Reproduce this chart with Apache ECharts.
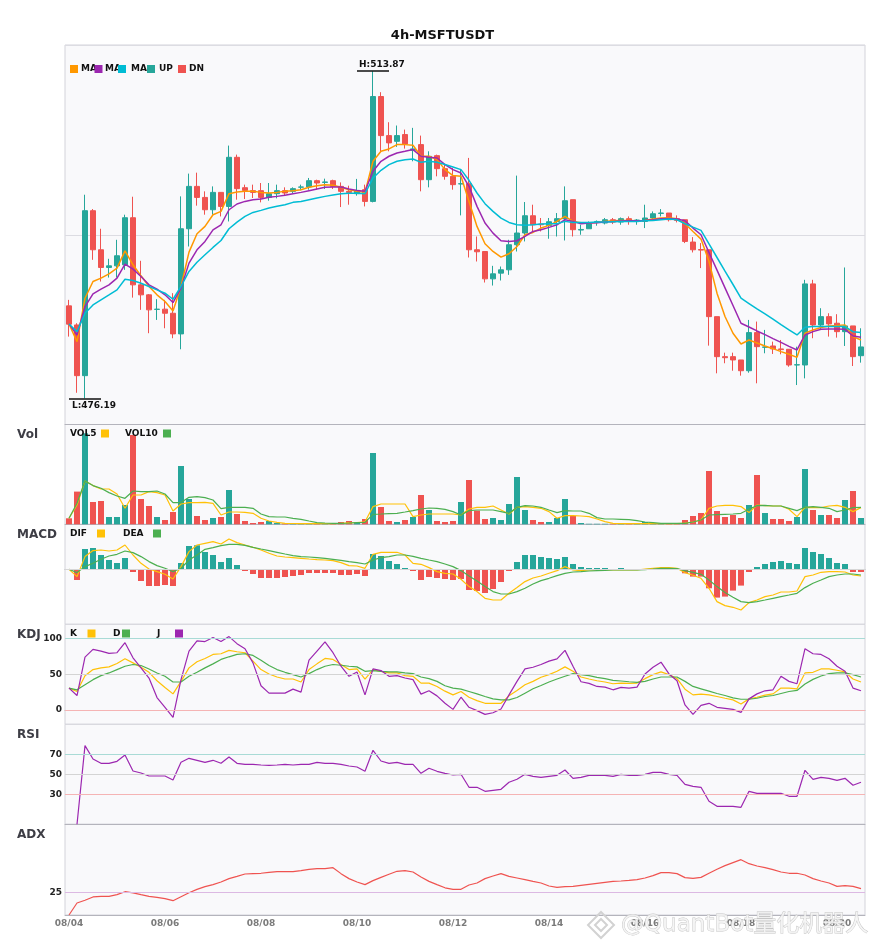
<!DOCTYPE html>
<html><head><meta charset="utf-8">
<script src="https://cdn.jsdelivr.net/npm/echarts@6.0.0/dist/echarts.min.js"></script>
<style>html,body{margin:0;padding:0;background:#fff}#c{width:885px;height:950px}</style>
</head><body><div id="c"></div>
<script>
const days = ['08/04','08/05','08/06','08/07','08/08','08/09','08/10','08/11','08/12','08/13','08/14','08/15','08/16','08/17','08/18','08/19','08/20'];
const hours = ['00:00','04:00','08:00','12:00','16:00','20:00'];

const openP = [486.84,484.64,478.80,497.80,493.30,491.26,491.45,491.57,496.99,489.26,
 488.11,486.43,486.46,485.99,483.61,495.72,500.60,499.33,497.91,499.91,
 498.29,503.95,500.45,500.11,500.11,499.33,499.76,500.11,500.03,500.51,
 500.53,501.26,501.06,501.26,500.60,500.03,499.76,500.22,498.87,510.95,
 506.45,505.79,506.57,504.76,505.41,501.37,504.14,502.64,501.76,500.88,
 500.91,493.30,493.10,489.95,490.61,490.99,493.88,495.23,497.22,496.26,
 496.10,496.56,496.88,499.07,495.57,495.72,496.53,496.38,496.76,496.49,
 496.88,496.68,496.56,496.96,497.49,497.53,496.88,496.76,494.19,493.33,
 493.30,485.60,480.99,480.99,480.61,479.37,483.76,482.07,482.22,481.88,
 481.84,480.03,480.03,489.37,484.64,485.60,484.84,483.87,484.53,481.10];
const closeP = [484.73,478.80,497.80,493.30,491.26,491.45,492.61,496.99,489.26,488.11,
 486.38,486.46,485.99,483.61,495.72,500.60,499.33,497.91,499.91,498.29,
 503.95,500.34,500.14,499.91,499.33,499.76,500.11,499.84,500.34,500.53,
 501.26,500.99,501.11,500.60,500.03,499.91,500.14,498.87,510.95,506.45,
 505.61,506.45,505.49,504.92,501.37,504.06,502.64,501.76,500.80,500.91,
 493.30,493.07,489.95,490.53,490.99,493.88,495.23,497.22,496.18,496.18,
 496.53,496.88,498.95,495.61,495.64,496.30,496.56,496.76,496.49,496.88,
 496.56,496.72,496.96,497.45,497.53,496.76,496.68,494.26,493.30,493.26,
 485.60,480.99,480.87,480.61,479.37,483.76,482.14,482.11,481.88,481.80,
 480.03,480.06,489.37,484.64,485.60,484.76,483.87,484.53,480.99,482.11];
const lowP = [483.30,476.83,476.19,492.14,489.64,490.10,490.10,490.99,487.79,486.38,
 483.69,485.22,484.26,483.11,481.84,493.68,498.38,497.34,497.34,497.14,
 496.56,499.07,499.15,499.26,498.76,498.95,499.22,499.53,499.84,500.14,
 500.22,500.22,500.30,500.30,498.22,498.49,499.53,498.29,498.76,504.52,
 504.64,505.15,504.95,503.49,500.03,500.49,501.76,501.37,500.22,497.26,
 492.41,491.95,489.53,489.18,489.76,490.41,493.10,494.26,495.41,495.41,
 494.57,494.83,494.37,494.83,495.03,495.70,496.07,496.22,496.26,496.18,
 496.18,496.18,495.80,496.68,497.14,496.56,496.45,494.07,492.99,491.19,
 482.26,479.07,480.23,479.37,478.80,479.14,477.92,481.38,481.30,481.26,
 479.83,477.72,478.49,483.11,484.07,483.30,483.18,482.22,479.91,480.30];
const highP = [487.53,484.84,499.64,497.99,495.72,492.26,494.45,497.34,499.41,492.03,
 488.20,487.61,487.53,488.30,499.45,502.07,502.18,500.03,500.60,499.95,
 505.30,504.26,500.80,500.80,500.99,500.99,500.80,500.49,500.49,500.80,
 501.57,501.37,501.49,501.37,501.06,500.68,501.46,500.80,513.87,511.45,
 507.99,507.61,507.14,507.34,506.45,504.64,504.26,503.11,502.72,502.61,
 503.88,494.83,493.10,491.45,491.37,494.45,501.84,498.80,498.49,496.96,
 496.96,497.53,500.60,499.07,496.18,496.56,496.68,496.96,496.96,497.02,
 497.14,496.84,498.49,497.72,497.99,497.53,497.26,496.76,494.76,494.07,
 493.30,485.60,481.45,481.45,480.61,485.22,485.03,484.07,482.72,482.91,
 481.84,482.14,489.84,489.84,486.57,485.99,485.88,491.26,484.53,484.26];

const ma5 = [484.76,482.72,487.72,489.64,490.03,490.53,491.18,493.18,491.57,490.30,
 489.07,488.11,487.34,486.26,489.07,493.03,495.14,495.99,497.33,497.72,
 499.76,499.95,500.03,500.03,499.91,499.84,499.91,500.03,500.10,500.22,
 500.49,500.68,500.80,500.72,500.49,500.22,500.03,499.91,503.49,504.64,
 504.91,505.41,505.41,505.34,504.07,504.07,503.68,502.53,501.84,501.76,
 498.87,495.99,493.99,493.11,492.45,492.84,493.68,495.03,495.30,495.80,
 496.11,496.57,497.14,496.57,496.40,496.37,496.45,496.57,496.64,496.68,
 496.68,496.64,496.68,496.84,496.95,496.99,496.87,496.30,495.41,494.53,
 491.95,488.30,485.61,483.68,482.45,482.91,482.57,482.22,481.91,481.57,
 481.26,480.91,483.68,484.07,484.34,484.53,484.57,484.65,483.30,482.91];
const ma10 = [484.76,483.49,486.76,488.22,488.76,489.26,490.03,491.64,491.07,490.22,
 489.26,488.76,488.11,487.22,488.88,491.76,493.30,494.26,495.60,496.18,
 497.91,498.57,498.87,499.07,499.14,499.34,499.45,499.57,499.76,499.91,
 500.11,500.30,500.49,500.53,500.53,500.30,500.14,500.03,502.34,503.49,
 504.07,504.45,504.64,504.84,504.07,503.95,503.87,503.11,502.53,502.14,
 500.61,498.30,496.38,495.22,494.34,494.26,494.34,494.84,495.41,495.61,
 495.88,496.18,496.76,496.57,496.30,496.37,496.41,496.49,496.57,496.61,
 496.64,496.64,496.68,496.76,496.87,496.91,496.84,496.64,495.80,495.03,
 492.99,490.95,488.91,486.88,484.84,484.41,483.95,483.53,483.07,482.64,
 482.18,481.76,483.49,483.87,484.14,484.18,484.18,484.14,483.38,483.22];
const ma20 = [484.76,483.87,485.99,486.95,487.53,488.10,488.68,489.91,489.76,489.45,
 489.07,488.68,488.30,487.60,489.07,490.80,491.87,492.72,493.57,494.37,
 495.72,496.49,497.14,497.60,497.84,498.10,498.30,498.49,498.76,498.87,
 499.07,499.26,499.45,499.61,499.76,499.80,499.80,499.76,501.57,502.45,
 503.11,503.49,503.68,503.76,503.37,503.49,503.37,503.11,502.84,502.53,
 501.30,499.84,498.61,497.72,496.95,496.45,496.18,496.11,496.18,496.26,
 496.30,496.30,496.57,496.45,496.45,496.45,496.49,496.49,496.53,496.57,
 496.57,496.57,496.64,496.68,496.76,496.84,496.76,496.30,495.91,495.53,
 493.99,492.41,490.84,489.30,487.72,487.11,486.49,485.91,485.30,484.68,
 484.07,483.49,484.38,484.45,484.45,484.45,484.45,484.45,483.87,483.76];

const volume = [6.0,32.7,91.0,22.3,23.3,7.3,7.3,19.3,89.3,25.3,
 18.3,7.3,4.3,12.3,58.3,25.3,8.3,4.3,6.3,7.3,
 34.3,10.3,3.3,1.3,2.3,3.3,1.3,0.7,0.7,0.7,
 0.7,0.7,0.7,0.7,2.3,3.3,2.3,5.3,71.3,17.3,
 3.3,2.3,4.3,7.3,29.3,14.3,3.3,2.3,3.3,22.3,
 44.3,13.7,5.3,6.3,4.3,20.3,47.3,14.3,4.3,2.3,
 2.3,6.3,25.3,8.3,1.3,0.5,0.5,0.5,0.5,0.5,
 0.5,0.5,2.3,0.7,0.7,0.7,0.7,4.3,8.3,11.3,
 53.3,13.3,7.3,9.3,6.3,19.3,49.3,11.3,5.3,5.3,
 3.3,7.3,55.3,14.3,9.3,9.3,6.3,24.3,33.3,6.3];
const vol5 = [6.0,19.3,43.3,38.7,35.3,35.3,30.3,16.0,29.3,29.3,
 32.7,31.7,29.3,13.3,20.3,21.7,21.7,22.0,21.0,9.3,
 12.3,12.3,12.0,11.0,6.0,3.3,2.0,1.0,0.8,0.7,
 0.7,0.7,0.7,0.7,1.0,1.5,1.8,2.5,17.7,20.3,
 20.3,20.3,20.3,7.7,9.3,10.3,10.3,10.3,10.3,9.3,
 15.3,17.0,17.0,18.3,14.3,10.3,17.0,17.7,17.0,16.0,
 12.7,6.0,8.7,8.7,8.3,7.7,5.3,2.7,1.0,0.6,
 0.6,0.6,0.6,0.6,0.6,0.6,0.6,1.3,2.3,4.3,
 16.0,18.3,19.0,19.0,17.7,11.7,19.3,18.7,18.3,18.3,
 15.0,7.7,17.0,16.7,16.7,18.3,19.0,17.0,12.7,16.7];
const vol10 = [6.0,21.0,43.3,38.7,36.0,31.7,28.3,26.0,33.3,32.7,
 32.7,33.3,30.3,21.7,21.7,27.0,27.7,26.7,24.3,15.7,
 17.0,17.0,17.0,16.0,10.3,7.7,7.3,7.3,6.0,5.0,
 3.3,1.7,1.3,1.0,1.0,1.3,1.7,2.0,10.0,10.3,
 10.7,11.0,12.3,13.7,15.3,16.3,16.0,15.0,12.7,9.3,
 13.7,14.3,14.3,14.3,12.7,11.0,17.0,18.7,18.3,17.0,
 14.3,11.7,13.7,13.3,13.3,11.0,6.7,5.3,5.3,5.0,
 4.7,3.7,2.3,1.7,1.0,1.0,1.0,1.0,2.3,4.3,
 9.3,9.7,10.0,10.3,11.0,15.0,18.7,19.0,18.3,18.3,
 16.0,13.7,17.0,17.7,17.0,16.0,12.7,14.3,16.7,17.0];

const macdHist = [0,-1.07,2.03,2.13,1.43,0.93,0.63,1.13,-0.27,-1.17,
 -1.67,-1.67,-1.57,-1.67,0.63,2.33,2.40,1.73,1.43,0.73,
 1.13,0.43,-0.17,-0.47,-0.87,-0.87,-0.87,-0.77,-0.67,-0.57,
 -0.37,-0.37,-0.37,-0.37,-0.57,-0.57,-0.47,-0.67,1.53,1.33,
 0.83,0.53,0.13,-0.17,-1.07,-0.77,-0.87,-0.97,-1.07,-0.97,
 -2.07,-2.17,-2.37,-1.97,-1.27,-0.17,0.73,1.43,1.43,1.23,
 1.13,1.03,1.23,0.53,0.23,0.13,0.13,0.13,0.03,0.13,
 0.02,0.02,0.02,0.02,0.02,0.02,0.01,-0.40,-0.73,-0.73,
 -1.90,-2.83,-2.73,-2.13,-1.63,-0.27,0.23,0.53,0.73,0.83,
 0.63,0.53,2.13,1.73,1.53,1.13,0.63,0.53,-0.27,-0.27];
const dif = [0,-0.73,1.27,1.87,1.93,1.83,1.93,2.43,1.43,0.60,
 0.03,-0.23,-0.50,-0.97,0.27,1.77,2.43,2.60,2.77,2.53,
 3.03,2.67,2.43,2.20,1.93,1.60,1.33,1.23,1.17,1.10,
 1.03,0.97,0.93,0.87,0.67,0.37,0.33,0.10,1.50,1.70,
 1.70,1.70,1.43,0.60,0.50,0.17,-0.23,-0.40,-0.47,-1.00,
 -1.73,-2.23,-2.90,-3.07,-3.07,-2.40,-1.83,-1.23,-0.87,-0.67,
 -0.40,-0.13,0.27,-0.07,-0.13,-0.07,-0.07,-0.07,-0.07,-0.07,
 -0.07,-0.07,0.03,0.10,0.17,0.17,0.10,-0.33,-0.60,-0.90,
 -1.90,-3.23,-3.63,-3.80,-4.07,-3.33,-3.07,-2.73,-2.57,-2.27,
 -2.27,-2.17,-0.73,-0.57,-0.30,-0.23,-0.23,-0.27,-0.57,-0.67];
const dea = [0,-0.33,0.27,0.60,1.00,1.33,1.50,1.83,1.67,1.27,
 0.77,0.37,0.10,-0.23,0.10,0.93,1.43,2.00,2.17,2.37,
 2.50,2.50,2.40,2.20,2.03,1.87,1.70,1.53,1.37,1.27,
 1.23,1.17,1.10,1.00,0.90,0.77,0.67,0.53,0.93,1.17,
 1.27,1.43,1.43,1.30,1.10,0.93,0.77,0.53,0.27,-0.13,
 -0.67,-1.17,-1.73,-2.23,-2.47,-2.47,-2.23,-1.90,-1.47,-1.13,
 -0.90,-0.63,-0.40,-0.27,-0.23,-0.17,-0.13,-0.10,-0.07,-0.07,
 -0.07,-0.07,-0.03,0.03,0.10,0.10,0.07,-0.13,-0.30,-0.50,
 -1.07,-1.73,-2.33,-2.80,-3.23,-3.33,-3.23,-3.07,-2.90,-2.73,
 -2.57,-2.40,-1.83,-1.40,-1.07,-0.73,-0.57,-0.47,-0.47,-0.57];

const kLine = [30.7,25.9,48.1,56.6,59.0,60.4,65.1,71.7,66.0,59.9,
 52.8,41.0,31.6,22.6,40.1,59.0,67.5,72.2,77.8,78.8,
 83.5,81.6,80.2,68.4,56.6,50.5,46.2,43.4,43.4,39.2,
 56.6,64.6,72.2,70.8,63.7,56.6,57.5,43.4,56.6,54.2,
 51.9,51.9,48.1,47.2,37.7,37.7,33.0,26.4,21.2,25.9,
 17.9,13.2,9.4,9.4,9.4,19.8,27.4,35.4,40.1,45.8,
 49.5,54.2,60.4,54.2,46.2,43.4,41.0,39.2,36.8,37.7,
 37.3,37.7,43.9,49.5,53.3,49.5,43.9,29.2,21.2,22.2,
 21.2,18.9,16.5,14.2,8.5,15.6,17.9,20.8,22.6,30.7,
 30.7,29.7,51.9,52.8,57.5,57.5,55.7,53.3,43.4,39.2];
const dLine = [30.7,28.3,35.4,42.5,48.1,51.9,56.6,61.3,63.7,62.3,
 57.5,51.9,47.2,39.2,39.2,47.2,52.8,59.0,64.6,70.8,
 74.5,77.8,78.8,76.4,69.8,62.3,56.6,52.8,49.5,46.2,
 50.9,56.6,61.3,63.7,62.7,61.3,60.4,54.2,55.2,54.2,
 53.3,53.3,51.9,50.9,46.2,43.9,40.1,34.0,30.7,29.2,
 25.9,22.6,18.9,15.6,14.2,14.2,17.5,23.6,29.7,34.4,
 39.2,43.4,47.2,50.9,49.5,48.1,45.8,43.9,41.5,40.6,
 39.6,38.7,40.1,43.4,46.2,46.2,46.2,40.1,33.0,29.7,
 26.4,23.1,20.3,17.0,15.1,15.1,16.5,18.9,20.3,23.1,
 25.9,27.4,36.3,42.9,47.6,50.9,51.9,51.9,49.5,46.2];
const jLine = [30.7,20.3,74.1,84.9,82.5,79.2,80.2,94.3,73.1,59.0,
 44.8,17.5,3.8,-10.4,42.5,82.5,96.7,95.8,101.4,95.8,
 102.8,92.9,85.8,66.0,34.0,23.6,23.6,23.6,29.2,25.0,
 69.8,82.5,95.3,80.2,61.3,47.2,53.3,21.2,57.5,55.2,
 47.2,48.1,44.8,42.5,22.2,26.9,19.8,9.4,0.9,17.9,
 3.8,-0.9,-6.1,-3.8,1.4,21.2,40.1,57.5,59.9,63.7,
 68.4,71.7,83.5,61.3,39.6,37.3,33.0,32.1,28.3,31.6,
 30.7,32.1,50.5,59.9,67.0,50.5,41.0,7.1,-6.1,6.6,
 9.4,3.8,2.4,0.9,-3.3,15.6,22.6,26.9,28.3,47.2,
 40.1,36.8,85.8,78.8,77.8,71.7,61.3,54.2,30.7,26.9];

const rsi = [null,0,78.7,65.3,61,61,63,69.3,53.3,51.3,
 48.3,48.3,48.3,44.3,62,66,64,62,64,61,
 67.3,61,60,60,59.3,59,59.3,60,59.3,60,
 60,62,61,61,60,58.3,57.3,53,74,63.3,
 61,62,60,60,51,56,53,51,49.3,50,
 37,37,33,34,35,42,45,50,48,47,
 48,49,54.3,46,47,49,49,49,48,50,
 49,49,50,52,52,50,49,40,38,37,
 23,18,18,18,17,33,31,31,31,31,
 28,28,54,45,47,46,44,46,39,42];
const adx = [0,13.2,16.2,19.9,20.6,20.6,22.4,25.7,24.3,22.4,
 20.6,19.5,18.0,15.8,20.2,24.6,28.3,31.3,33.5,36.4,
 40.1,42.6,45.2,45.6,46.0,47.1,47.8,47.8,47.8,48.9,
 50.4,51.1,51.1,52.2,45.6,40.1,36.4,33.5,37.9,41.5,
 44.9,48.2,48.9,47.4,41.9,37.1,33.5,30.0,28.3,28.3,
 33.1,35.3,40.1,43.0,45.6,42.6,40.8,39.0,37.1,35.3,
 32.0,30.5,31.3,31.6,32.7,33.8,34.9,36.0,37.1,37.5,
 38.2,39.0,40.8,43.4,46.7,46.7,45.6,41.2,40.4,41.5,
 46.0,50.4,54.4,57.7,61.0,56.6,54.0,52.2,50.0,47.4,
 46.0,46.0,44.1,40.1,37.5,35.3,31.6,32.4,31.6,29.0];

const kdjLabels = [0, 50, 100];
const rsiLabels = [30, 50, 70];
const adxLabels = [25];

// ---- build ----
const categories = [];
days.forEach(d => hours.forEach(h => categories.push(d + ' ' + h)));
categories.length = openP.length;
const candles = openP.map((o, i) => [o, closeP[i], lowP[i], highP[i]]);

let hiIdx = 0, loIdx = 0;
highP.forEach((v, i) => { if (v > highP[hiIdx]) hiIdx = i; });
lowP.forEach((v, i) => { if (v < lowP[loIdx]) loIdx = i; });

const UP = '#26a69a', DN = '#ef5350';
const FONT = 'DejaVu Sans';

const gridTops = [45, 424.5, 524.3, 624.3, 724.3, 824.3];
const gridHeights = [379.5, 99.8, 100, 100, 100, 90.7];
const grids = gridTops.map((t, i) => ({
  left: 65, width: 800, top: t, height: gridHeights[i],
  show: true, backgroundColor: '#f9f9fb', borderColor: '#d3d3da', borderWidth: 1,
  containLabel: false, outerBoundsMode: 'none'
}));

const xAxes = grids.map((g, i) => ({
  type: 'category', gridIndex: i, data: categories, boundaryGap: true,
  axisTick: { show: false },
  axisLine: { show: true, lineStyle: { color: '#b4b4bc', width: 1 } },
  splitLine: { show: false },
  axisPointer: { show: false },
  axisLabel: i === 5 ? {
    show: true, interval: 11, margin: 4, color: '#7a7a7a', fontSize: 9, fontWeight: 'bold', fontFamily: FONT,
    formatter: v => v.slice(0, 5)
  } : { show: false }
}));

const pMin = 473.176, pMax = 516.884;
const labelStyle = { color: '#222', fontSize: 9, fontWeight: 'bold', fontFamily: FONT, margin: 3 };
const yAxes = [
  { gridIndex: 0, min: pMin, max: pMax, interval: (pMax - pMin) / 2,
    axisLabel: { show: false }, axisLine: { show: false }, axisTick: { show: false },
    splitLine: { show: true, lineStyle: { color: '#dcdce2', width: 1 } } },
  { gridIndex: 1, min: 0, max: 99.8, axisLabel: { show: false }, axisLine: { show: false }, axisTick: { show: false }, splitLine: { show: false } },
  { gridIndex: 2, min: -5.5, max: 4.5, axisLabel: { show: false }, axisLine: { show: false }, axisTick: { show: false }, splitLine: { show: false } },
  { gridIndex: 3, min: -20, max: 120, interval: 10, axisLine: { show: false }, axisTick: { show: false }, splitLine: { show: false },
    axisLabel: Object.assign({ formatter: v => kdjLabels.includes(Math.round(v)) && Math.abs(v - Math.round(v)) < 1e-6 ? String(Math.round(v)) : '' }, labelStyle) },
  { gridIndex: 4, min: 0, max: 100, interval: 10, axisLine: { show: false }, axisTick: { show: false }, splitLine: { show: false },
    axisLabel: Object.assign({ formatter: v => rsiLabels.includes(v) ? String(v) : '' }, labelStyle) },
  { gridIndex: 5, min: 0, max: 100, interval: 25, axisLine: { show: false }, axisTick: { show: false }, splitLine: { show: false },
    axisLabel: Object.assign({ formatter: v => adxLabels.includes(v) ? String(v) : '' }, labelStyle) }
];

function line(name, data, color, xi, width, extra) {
  return Object.assign({
    name, type: 'line', data, xAxisIndex: xi, yAxisIndex: xi, showSymbol: false, symbol: 'none',
    lineStyle: { color, width: width || 1.2 }, itemStyle: { color }, silent: true, animation: false, z: 3
  }, extra || {});
}
function hLine(v, color) {
  return { yAxis: v, lineStyle: { color, width: 1, type: 'solid' } };
}
const mlBase = { silent: true, symbol: ['none', 'none'], label: { show: false }, animation: false };

const hlMark = Object.assign({}, mlBase, {
  lineStyle: { color: '#111', width: 1.5, type: 'solid' },
  data: [
    [{ coord: [hiIdx - 2, highP[hiIdx]], label: { show: true, position: 'insideStartTop', formatter: 'H:' + highP[hiIdx].toFixed(2), color: '#111', fontSize: 9, fontWeight: 'bold', fontFamily: FONT, distance: 2 } },
     { coord: [hiIdx + 2, highP[hiIdx]] }],
    [{ coord: [Math.max(loIdx - 2, 0), lowP[loIdx]], label: { show: true, position: 'insideStartBottom', formatter: 'L:' + lowP[loIdx].toFixed(2), color: '#111', fontSize: 9, fontWeight: 'bold', fontFamily: FONT, distance: 3 } },
     { coord: [loIdx + 2, lowP[loIdx]] }]
  ]
});

const series = [
  { name: 'K', type: 'candlestick', data: candles, xAxisIndex: 0, yAxisIndex: 0, barWidth: 6, animation: false, silent: true,
    itemStyle: { color: UP, color0: DN, borderColor: UP, borderColor0: DN, borderWidth: 1 },
    markLine: hlMark, z: 2 },
  line('MA5', ma5, '#ff9800', 0, 1.5),
  line('MA10', ma10, '#9c27b0', 0, 1.5),
  line('MA20', ma20, '#00bcd4', 0, 1.5),
  { name: 'Volume', type: 'bar', xAxisIndex: 1, yAxisIndex: 1, barWidth: 6, animation: false, silent: true,
    data: volume.map((v, i) => ({ value: v, itemStyle: { color: closeP[i] >= openP[i] ? UP : DN } })) },
  line('VOL5', vol5, '#ffc107', 1),
  line('VOL10', vol10, '#4caf50', 1),
  { name: 'MACD', type: 'bar', xAxisIndex: 2, yAxisIndex: 2, barWidth: 6, animation: false, silent: true,
    data: macdHist.map(v => ({ value: v, itemStyle: { color: v >= 0 ? UP : DN } })),
    markLine: Object.assign({}, mlBase, { data: [hLine(0, '#d6d6d6')] }) },
  line('DIF', dif, '#ffc107', 2),
  line('DEA', dea, '#4caf50', 2),
  line('Kline', kLine, '#ffc107', 3, 1.2, { markLine: Object.assign({}, mlBase, { data: [hLine(100, '#a9dbd6'), hLine(50, '#d4d4d4'), hLine(0, '#f5b4b4')] }) }),
  line('D', dLine, '#4caf50', 3),
  line('J', jLine, '#9c27b0', 3),
  line('RSI', rsi, '#9c27b0', 4, 1.2, { markLine: Object.assign({}, mlBase, { data: [hLine(70, '#a9dbd6'), hLine(50, '#d4d4d4'), hLine(30, '#f5b4b4')] }) }),
  line('ADX', adx, '#ef5350', 5, 1.2, { markLine: Object.assign({}, mlBase, { data: [hLine(25, '#dcb9e3')] }) })
];

// legends and panel titles (graphic)
const g = [];
function lgText(x, y, t) { g.push({ type: 'text', x, y, z: 50, style: { text: t, fill: '#111', font: 'bold 9px "DejaVu Sans"', verticalAlign: 'middle' } }); }
function lgBox(x, y, c) { g.push({ type: 'rect', z: 51, shape: { x, y: y - 4, width: 8, height: 8 }, style: { fill: c } }); }
function panelTitle(y, t) { g.push({ type: 'text', x: 17, y, z: 50, style: { text: t, fill: '#3d3d45', font: 'bold 12px "DejaVu Sans"', verticalAlign: 'middle' } }); }

lgText(81, 69, 'MA'); lgText(105, 69, 'MA'); lgText(131, 69, 'MA'); lgText(159, 69, 'UP'); lgText(189, 69, 'DN');
lgBox(70, 69, '#ff9800'); lgBox(94.5, 69, '#9c27b0'); lgBox(118, 69, '#00bcd4'); lgBox(147, 69, UP); lgBox(178, 69, DN);

lgText(70, 433.5, 'VOL5'); lgBox(101, 433.5, '#ffc107'); lgText(125, 433.5, 'VOL10'); lgBox(163, 433.5, '#4caf50');
lgText(70, 533.5, 'DIF'); lgBox(97, 533.5, '#ffc107'); lgText(123, 533.5, 'DEA'); lgBox(153, 533.5, '#4caf50');
lgText(70, 633.5, 'K'); lgBox(87.5, 633.5, '#ffc107'); lgText(113, 633.5, 'D'); lgBox(122, 633.5, '#4caf50'); lgText(157, 633.5, 'J'); lgBox(175, 633.5, '#9c27b0');

panelTitle(434.5, 'Vol'); panelTitle(534.5, 'MACD'); panelTitle(634.5, 'KDJ'); panelTitle(735, 'RSI'); panelTitle(835, 'ADX');

// watermark
g.push({ type: 'polygon', z: 60, shape: { points: [[601, 912], [614, 925], [601, 938], [588, 925]] }, style: { fill: 'none', stroke: '#d2d2d2', lineWidth: 2 } });
g.push({ type: 'polygon', z: 60, shape: { points: [[601, 919], [607, 925], [601, 931], [595, 925]] }, style: { fill: 'none', stroke: '#d2d2d2', lineWidth: 2 } });
g.push({ type: 'text', x: 621, y: 925, z: 60, style: { text: '@QuantBot量化机器人', fill: 'rgba(245,245,245,0.85)', stroke: '#c6c6c6', lineWidth: 0.8, font: '23px "DejaVu Sans", "Noto Sans CJK SC"', verticalAlign: 'middle' } });

const chart = echarts.init(document.getElementById('c'), null, { renderer: 'canvas' });
chart.setOption({
  backgroundColor: '#ffffff',
  animation: false,
  textStyle: { fontFamily: FONT },
  title: { text: '4h-MSFTUSDT', left: 'center', top: 24, textStyle: { fontSize: 13, fontWeight: 'bold', color: '#111', fontFamily: FONT } },
  grid: grids,
  xAxis: xAxes,
  yAxis: yAxes,
  series,
  graphic: g
});
</script>
</body></html>
